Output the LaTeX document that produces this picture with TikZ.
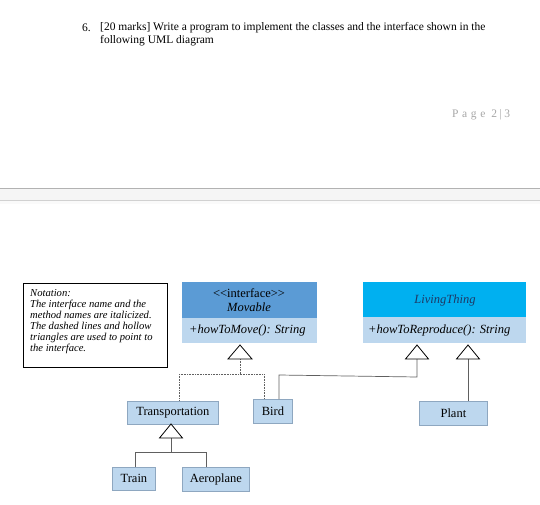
\documentclass[tikz,border=0pt]{standalone}
\usepackage{fontspec}
\setmainfont{Liberation Serif}
\usetikzlibrary{calc}
\definecolor{movhead}{HTML}{5B9BD5}
\definecolor{attrfill}{HTML}{BDD7EE}
\definecolor{lthead}{HTML}{00B0F0}
\definecolor{boxline}{HTML}{8EA7C0}
\definecolor{conn}{HTML}{606060}
\definecolor{pagegray}{HTML}{A6A6A6}
\definecolor{navy}{HTML}{1F3864}
\begin{document}
\begin{tikzpicture}[x=1bp,y=-1bp,
  bodytext/.style={inner sep=0, anchor=west, font=\fontsize{11.5bp}{13bp}\selectfont},
  cls/.style={draw=boxline, fill=attrfill, line width=0.8bp, inner sep=0, anchor=north west,
    font=\fontsize{12.5bp}{14bp}\selectfont},
  hdrbox/.style={inner sep=0, anchor=north west, minimum width=#1},
  dtext/.style={inner sep=0, font=\fontsize{12.5bp}{14bp}\selectfont},
  tri/.style={draw=black, fill=white, line width=0.8bp, line join=miter},
  dotline/.style={draw=conn, densely dotted, line width=0.6bp},
  solidline/.style={draw=conn, line width=0.7bp},
  notebox/.style={draw=black, line width=1bp, inner sep=0, anchor=north west}
]
\useasboundingbox (0,0) rectangle (540,505);

% header text
\node[bodytext] (qnum) at (82,28) {6.};
\node[bodytext] (q1) at (100,28) {[20 marks] Write a program to implement the classes and the interface shown in the};
\node[bodytext] (q2) at (100,41) {following UML diagram};
\node[inner sep=0, anchor=west, text=pagegray, font=\fontsize{11.5bp}{13bp}\selectfont] (page) at (452,115)
  {P\kern3.6bp a\kern3.6bp g\kern3.6bp e\kern6bp 2\kern2.5bp|\kern2.5bp 3};

% page break band
\fill[black!4] (0,188) rectangle (540,200);
\fill[black!2] (0,200) rectangle (540,204);
\draw[black!30, line width=0.8bp] (0,188) -- (540,188);
\draw[black!18, line width=0.8bp] (0,200) -- (540,200);

% notation box
\node[notebox, minimum width=144bp, minimum height=84bp] (note) at (23,283) {};
\node[inner sep=0, anchor=north west, align=left, font=\fontsize{10.6bp}{11bp}\selectfont\itshape] (notetext) at (30,289)
{Notation:\\The interface name and the\\method names are italicized.\\The dashed lines and hollow\\triangles are used to point to\\the interface.};

% Movable interface
\fill[movhead] (181.5,282) rectangle (316.5,318);
\fill[attrfill] (181.5,318) rectangle (316.5,343);
\node[hdrbox=135bp, minimum height=36bp] (movhead) at (181.5,282) {};
\node[hdrbox=135bp, minimum height=25bp] (movattr) at (181.5,318) {};
\node[dtext, align=center] (movname) at (249,300) {<\kern0pt<\kern0pt interface\kern0pt>\kern0pt>\\\textit{Movable}};
\node[dtext, anchor=west] (movop) at (189,330.5) {\textit{+howToMove(): String}};

% LivingThing
\fill[lthead] (363,282) rectangle (526,317);
\fill[attrfill] (363,317) rectangle (526,343);
\node[hdrbox=163bp, minimum height=35bp] (lthead) at (363,282) {};
\node[hdrbox=163bp, minimum height=26bp] (ltattr) at (363,317) {};
\node[dtext, text=navy] (ltname) at (445,300.5) {\textit{LivingThing}};
\node[dtext, anchor=west] (ltop) at (368,330.5) {\textit{+howToReproduce(): String}};

% classes
\node[cls, minimum width=91bp, minimum height=23bp] (trans) at (127,401) {Transportation};
\node[cls, minimum width=39bp, minimum height=24bp] (bird) at (253,399) {Bird};
\node[cls, minimum width=68bp, minimum height=24bp] (plant) at (419,401) {Plant};
\node[cls, minimum width=43bp, minimum height=23bp] (train) at (112,467) {Train};
\node[cls, minimum width=67bp, minimum height=24bp] (aero) at (182,467) {Aeroplane};

% junction coordinates
\coordinate (mtb) at (240,359);
\coordinate (jm) at (240,374);
\coordinate (jt1) at (179,374);
\coordinate (jt2) at (264,374);
\coordinate (bx) at (279,375);
\coordinate (jb) at (417,377);
\coordinate (l1b) at (417,359);
\coordinate (l2b) at (468,359);
\coordinate (ttb) at (171,438);
\coordinate (jt) at (171,452);
\coordinate (jtl) at (135,452);
\coordinate (jtr) at (206,452);

% Movable realisation (dotted)
\draw[dotline] (mtb) -- (jm);
\draw[dotline] (jt1) -- (jt2);
\draw[dotline] (jt1) -- (trans.north -| jt1);
\draw[dotline] (jt2) -- (bird.north -| jt2);

% LivingThing inheritance
\draw[solidline] (bird.north -| bx) -- (bx) -- (jb) -- (l1b);
\draw[solidline] (l2b) -- (plant.north -| l2b);

% Transportation inheritance
\draw[solidline] (ttb) -- (jt);
\draw[solidline] (jtl) -- (jtr);
\draw[solidline] (jtl) -- (train.north -| jtl);
\draw[solidline] (jtr) -- (aero.north -| jtr);

% hollow triangles
\draw[tri] (240,345) -- ++(-12,14) -- ++(24,0) -- cycle;
\draw[tri] (417,345) -- ++(-11.5,14) -- ++(23,0) -- cycle;
\draw[tri] (468,345) -- ++(-11.5,14) -- ++(23,0) -- cycle;
\draw[tri] (171,424) -- ++(-11.5,14) -- ++(23,0) -- cycle;
\end{tikzpicture}
\end{document}
